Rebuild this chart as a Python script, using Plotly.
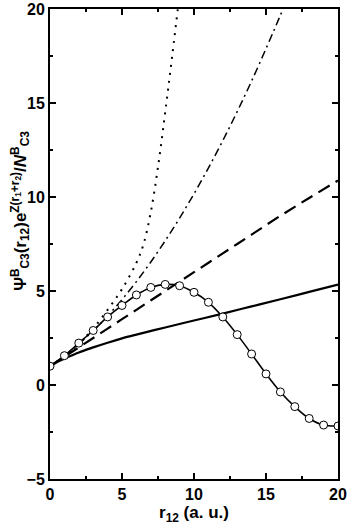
import plotly.graph_objects as go

# ---- data ----
x_solid = [0, 0.5, 1, 2, 3, 4, 5, 6, 8, 10, 12, 14, 16, 18, 20]
y_solid = [1.0, 1.22, 1.4, 1.73, 2.0, 2.25, 2.48, 2.68, 3.06, 3.43, 3.8, 4.18, 4.56, 4.95, 5.34]

x_dash = [0, 1, 2, 4, 6, 8, 10, 12, 14, 16, 18, 20]
y_dash = [1.0, 1.5, 2.0, 3.0, 4.0, 5.0, 6.0, 7.0, 8.0, 9.0, 9.95, 10.88]

x_dashdot = [0, 1, 2, 4, 6, 8, 10, 12, 14, 16, 16.5]
y_dashdot = [1.0, 1.54, 2.17, 3.67, 5.5, 7.67, 10.17, 13.0, 16.17, 19.67, 20.6]

x_dot = [0, 1, 2, 3, 4, 5, 6, 6.5, 7, 7.5, 8, 8.5, 9.0]
y_dot = [1.0, 1.55, 2.2, 3.0, 4.0, 5.1, 6.5, 7.5, 9.2, 11.6, 14.5, 17.6, 20.8]

x_circ = list(range(0, 21))
y_circ = [1.0, 1.56, 2.23, 2.90, 3.62, 4.23, 4.79, 5.19, 5.35, 5.28, 4.93,
          4.40, 3.62, 2.68, 1.65, 0.59, -0.37, -1.15, -1.78, -2.13, -2.18]

x_ticks = [0, 5, 10, 15, 20]
y_ticks = [-5, 0, 5, 10, 15, 20]

FONT = "Liberation Sans, Arial, sans-serif"

fig = go.Figure()
fig.add_trace(go.Scatter(x=x_dot, y=y_dot, mode="lines", line_shape="spline",
                         line=dict(color="black", width=2, dash="2px,6px")))
fig.add_trace(go.Scatter(x=x_dashdot, y=y_dashdot, mode="lines", line_shape="spline",
                         line=dict(color="black", width=1.5, dash="8px,4px,2px,4px")))
fig.add_trace(go.Scatter(x=x_dash, y=y_dash, mode="lines", line_shape="spline",
                         line=dict(color="black", width=2.2, dash="13px,7px")))
fig.add_trace(go.Scatter(x=x_solid, y=y_solid, mode="lines", line_shape="spline",
                         line=dict(color="black", width=2.2)))
fig.add_trace(go.Scatter(x=x_circ, y=y_circ, mode="lines+markers", line_shape="spline",
                         line=dict(color="black", width=1.6),
                         marker=dict(symbol="circle", size=8, color="white",
                                     line=dict(color="black", width=1))))

axis_common = dict(
    showline=True, linecolor="black", linewidth=2, mirror="ticks",
    ticks="inside", ticklen=6, tickwidth=2, tickcolor="black",
    showgrid=False, zeroline=False, automargin=False,
    ticklabeloverflow="allow",
    tickfont=dict(family=FONT, size=16, color="black", weight="bold"),
    minor=dict(ticks="inside", ticklen=3, tickwidth=1.5, tickcolor="black"),
)

fig.update_xaxes(range=[0, 20], tickvals=x_ticks, minor_dtick=2.5, **axis_common)
fig.update_yaxes(range=[-5, 20], tickvals=y_ticks, minor_dtick=2.5, **axis_common)

fig.add_annotation(
    text="r<sub>12</sub> (a. u.)",
    xref="paper", yref="paper", x=0.5, y=-0.049,
    xanchor="center", yanchor="top", showarrow=False, borderpad=0,
    font=dict(family=FONT, size=17, color="black", weight="bold"))

fig.add_annotation(
    text="Ψ<sup>B</sup><sub>C3</sub>(r<sub>12</sub>)e<sup>Z(r<sub>1</sub>+r<sub>2</sub>)</sup>/<i>N</i><sup>B</sup><sub>C3</sub>",
    textangle=-90, xref="paper", yref="paper", x=-0.105, y=0.57,
    xanchor="center", yanchor="middle", showarrow=False,
    font=dict(family=FONT, size=17, color="black", weight="bold"))

fig.update_layout(
    width=351, height=526, showlegend=False,
    plot_bgcolor="white", paper_bgcolor="white",
    margin=dict(l=50, r=13, t=9, b=47, autoexpand=False),
)

fig.write_html("out.html")
